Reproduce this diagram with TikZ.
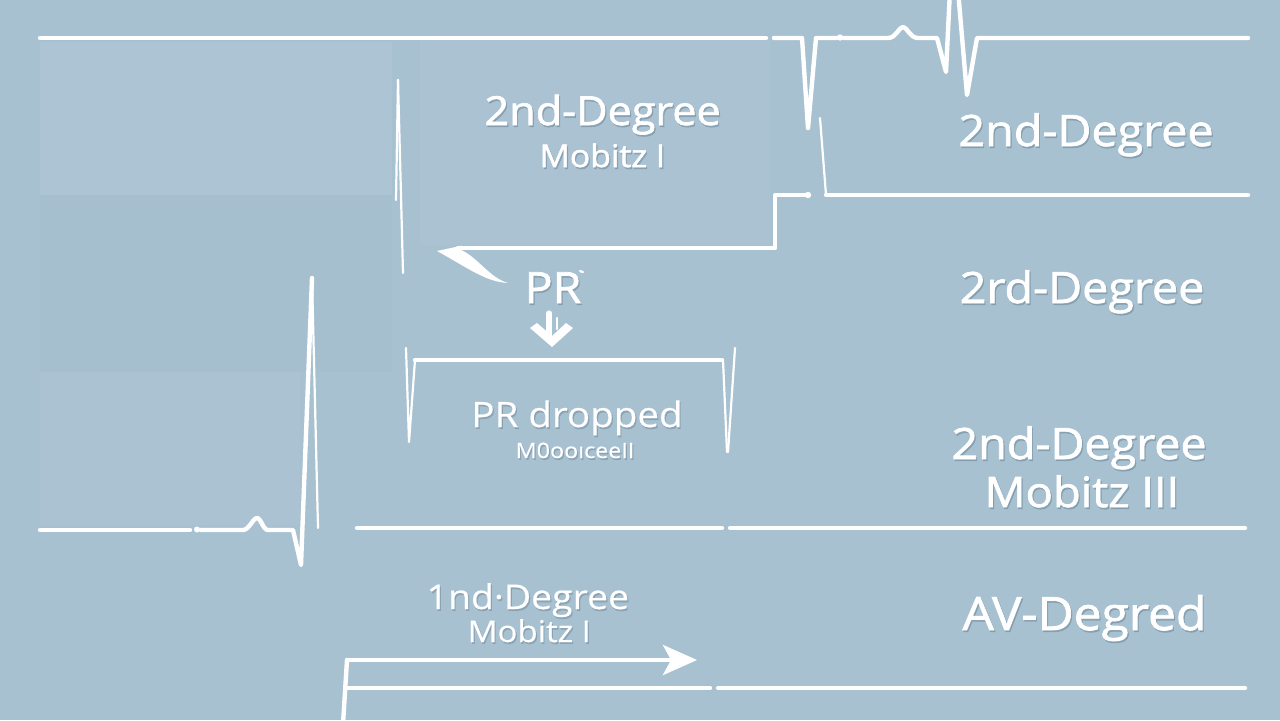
\documentclass[tikz,border=0pt]{standalone}
\usepackage{fontspec}
\setmainfont[FakeStretch=1.1,FakeBold=0.4]{Open Sans}
\newfontfamily\medfont[FakeStretch=1.08,FakeBold=1.6]{Open Sans}
\usetikzlibrary{arrows.meta}
\definecolor{bgc}{RGB}{168,193,209}
\definecolor{panelc}{RGB}{172,196,211}
\definecolor{panelb}{RGB}{166,191,207}
\definecolor{shadc}{RGB}{118,143,160}
\tikzset{
  ln/.style={draw=white,line width=2.2pt,line cap=round,line join=round},
  thinln/.style={draw=white,line width=1.1pt,line cap=round,line join=round},
  txt/.style={text=white,anchor=base,inner sep=0pt},
  txtsh/.style={text=shadc,anchor=base,inner sep=0pt,opacity=0.55},
}
\newcommand\stxt[5]{%
  \node[txtsh] (#1-s) at (#2+1.2,#3+1.8) {#4 #5};
  \node[txt] (#1) at (#2,#3) {#4 #5};}
\begin{document}
\begin{tikzpicture}[x=0.5pt,y=-0.5pt]
\useasboundingbox (0,0) rectangle (1280,720);
\fill[bgc] (0,0) rectangle (1280,720);
% subtle panels
\fill[panelc] (40,42) rectangle (392,195);
\fill[panelb] (40,195) rectangle (392,372);
\fill[panelc,opacity=0.6] (40,372) rectangle (300,525);
\fill[panelc,opacity=0.5] (420,40) rectangle (770,245);

% top ECG trace
\draw[ln] (40,38) -- (766,38);
\draw[ln] (774,38) -- (802,38) -- (808,128) -- (816,38) -- (836,38);
\fill[white] (840,37.5) circle (3.2);
\draw[ln] (844,38) -- (888,38) .. controls (896,38) and (899,27) .. (903,27)
  .. controls (907,27) and (910,38) .. (918,38) -- (937,38) -- (946,72) -- (950,-10);
\draw[ln] (958,-10) -- (967,95) -- (977,38) -- (1248,38);

% step line with arrow to the left
\draw[thinln] (820,118) -- (826,195);
\draw[ln] (826,195) -- (1248,195);
\fill[white] (808,195) circle (3.2);
\draw[ln] (806,195) -- (775,195) -- (775,248) -- (458,248);
\fill[white] (437,251) -- (462,245.6) -- (462,250.4)
  .. controls (478,258) and (490,278) .. (508,283)
  .. controls (485,282) and (465,266) .. cycle;

% spike near x=400
\draw[thinln] (398,80) -- (403,273);
\draw[thinln] (398,80) -- (396,200);

% center texts
\stxt{c1}{597}{125}{\medfont\fontsize{20}{24}\selectfont}{2nd-Degree}
\stxt{c2}{598}{167}{\medfont\fontsize{15.6}{19}\selectfont}{Mobitz I}
\stxt{pr}{547}{303}{\medfont\fontsize{21.5}{26}\selectfont}{PR}
\draw[thinln] (580,271) -- (583,272);

% down arrow
\draw[ln,line width=2.6pt] (549,313) -- (549,338);
\draw[thinln] (557,318) -- (557,329);
\fill[white] (530,328) -- (552,347) -- (573,328) -- (566,323) -- (552,336) -- (537,323) -- cycle;

% bracket box
\draw[thinln] (406,348) -- (409,442) -- (415,360);
\draw[ln] (415,360) -- (722,360);
\draw[thinln] (723,360) -- (727,452);
\draw[thinln] (735,348) -- (728,452);
\stxt{pd}{572}{427}{\fontsize{17.5}{21}\selectfont}{PR dropped}
\stxt{md}{572}{458}{\fontsize{10.6}{13}\selectfont}{M0ooıceeII}

% lower ECG trace with tall spike
\draw[ln] (40,530) -- (190,530);
\fill[white] (197,529.5) circle (3);
\draw[ln] (201,530) -- (243,530) .. controls (249,530) and (253,518) .. (257,518)
  .. controls (261,518) and (263,530) .. (268,530) -- (293,530) -- (301,565) -- (312,278);
\draw[thinln] (312,278) -- (318,528);
\draw[ln] (357,528) -- (722,528);
\draw[ln] (730,528) -- (1245,528);

% bottom arrow and lines
\draw[ln,-{Stealth[length=17pt,width=15pt,inset=4pt]}] (348,660) -- (697,660);
\draw[ln] (347,660) -- (343,724);
\draw[ln] (348,688) -- (710,688);
\draw[ln] (718,688) -- (1245,688);
\stxt{b1}{523}{609}{\fontsize{17}{21}\selectfont}{1nd·Degree}
\stxt{b2}{525}{642}{\fontsize{15}{18}\selectfont}{Mobitz I}

% right labels
\stxt{r1}{1080}{146}{\medfont\fontsize{21.6}{26}\selectfont}{2nd-Degree}
\stxt{r2}{1076}{303}{\medfont\fontsize{21.6}{26}\selectfont}{2rd-Degree}
\stxt{r3}{1073}{459}{\medfont\fontsize{21.6}{26}\selectfont}{2nd-Degree}
\stxt{r4}{1076}{507}{\medfont\fontsize{21}{26}\selectfont}{Mobitz III}
\stxt{r5}{1078}{630}{\medfont\fontsize{23}{28}\selectfont}{AV-Degred}
\end{tikzpicture}
\end{document}
